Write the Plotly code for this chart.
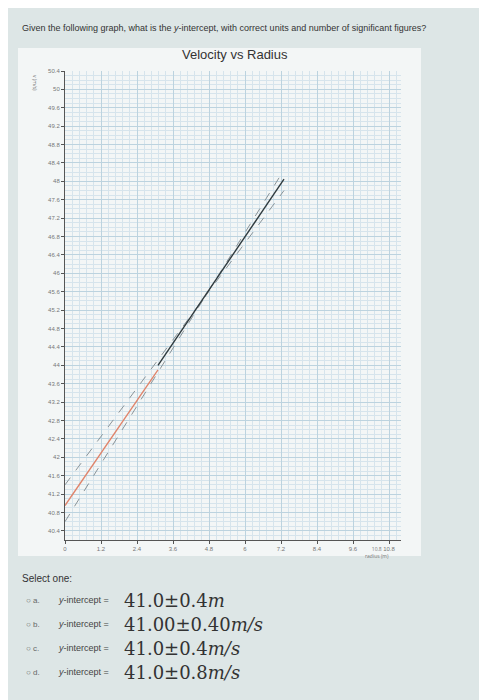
import plotly.graph_objects as go

# best fit segments
fit_low_x = [0.0, 3.1]
fit_low_y = [40.95, 43.9]
fit_high_x = [3.1, 7.3]
fit_high_y = [44.0, 48.05]
# max / min slope lines
max_x = [0.0, 7.3]
max_y = [40.6, 48.25]
min_x = [0.0, 7.3]
min_y = [41.4, 47.8]

x_ticks = [round(1.2 * i, 1) for i in range(10)]
y_ticks = [round(40.4 + 0.4 * i, 1) for i in range(26)]

options = [
    ("a.", "41.0±0.4<i>m</i>"),
    ("b.", "41.00±0.40<i>m/s</i>"),
    ("c.", "41.0±0.4<i>m/s</i>"),
    ("d.", "41.0±0.8<i>m/s</i>"),
]

W, H = 487, 700
L, R, T, B = 57, 94, 63, 168


def px_x(p):
    return (p - L) / (W - L - R)


def px_y(p):
    return (H - B - p) / (H - T - B)


fig = go.Figure()
fig.add_trace(go.Scatter(x=max_x, y=max_y, mode="lines",
                         line=dict(color="#8a9499", width=1, dash="dash")))
fig.add_trace(go.Scatter(x=min_x, y=min_y, mode="lines",
                         line=dict(color="#8a9499", width=1, dash="dash")))
fig.add_trace(go.Scatter(x=fit_low_x, y=fit_low_y, mode="lines",
                         line=dict(color="#e0836a", width=1.3)))
fig.add_trace(go.Scatter(x=fit_high_x, y=fit_high_y, mode="lines",
                         line=dict(color="#2f3a3e", width=1.4)))

axis_common = dict(
    showline=True, linecolor="#555", linewidth=1, ticks="outside", ticklen=3,
    tickcolor="#555", tickfont=dict(size=6, color="#777", family="Arial"),
    showgrid=True, gridcolor="#bcd3df", gridwidth=1, zeroline=False,
    minor=dict(showgrid=True, gridcolor="#d6e4ec", gridwidth=0.6),
)
fig.update_xaxes(range=[0, 11.2], tickvals=x_ticks,
                 ticktext=[f"{v:g}" for v in x_ticks],
                 minor_dtick=0.24, **axis_common)
fig.update_yaxes(range=[40.2, 50.4], tickvals=y_ticks,
                 ticktext=[f"{v:g}" for v in y_ticks],
                 minor_dtick=0.1, **axis_common)

ann = [
    dict(text="Given the following graph, what is the <i>y</i>-intercept, with correct units and number of significant figures?",
         x=px_x(12), y=px_y(20), xanchor="left",
         font=dict(size=9, color="#333", family="Arial")),
    dict(text="Velocity vs Radius", x=px_x(227), y=px_y(46), xanchor="center",
         font=dict(size=13, color="#333", family="Arial")),
    dict(text="v (m/s)", x=px_x(22), y=px_y(75), textangle=90,
         font=dict(size=5, color="#777")),
    dict(text="10.8<br>radius (m)", x=px_x(383), y=px_y(544),
         font=dict(size=5, color="#777")),
    dict(text="Select one:", x=px_x(12), y=px_y(570), xanchor="left",
         font=dict(size=10, color="#333", family="Arial")),
]
for i, (lab, val) in enumerate(options):
    yy = px_y(592 + i * 24)
    ann.append(dict(text=f"○ {lab}", x=px_x(16), y=yy, xanchor="left",
                    font=dict(size=8, color="#666", family="Arial")))
    ann.append(dict(text="<i>y</i>-intercept = ", x=px_x(48), y=yy, xanchor="left",
                    font=dict(size=9, color="#444", family="Arial")))
    ann.append(dict(text=val, x=px_x(114), y=yy, xanchor="left",
                    font=dict(size=18, color="#333", family="DejaVu Serif")))
for a in ann:
    a.update(xref="paper", yref="paper", showarrow=False, yanchor="middle")

fig.update_layout(
    width=W, height=H, margin=dict(l=L, r=R, t=T, b=B),
    paper_bgcolor="#dde6e6", plot_bgcolor="#eaf1f4", showlegend=False,
    annotations=ann,
    shapes=[dict(type="rect", xref="paper", yref="paper",
                 x0=px_x(10), x1=px_x(413), y0=px_y(548), y1=px_y(40),
                 fillcolor="#f3f6f6", line=dict(width=0), layer="below")],
)

fig.write_html("out.html")
